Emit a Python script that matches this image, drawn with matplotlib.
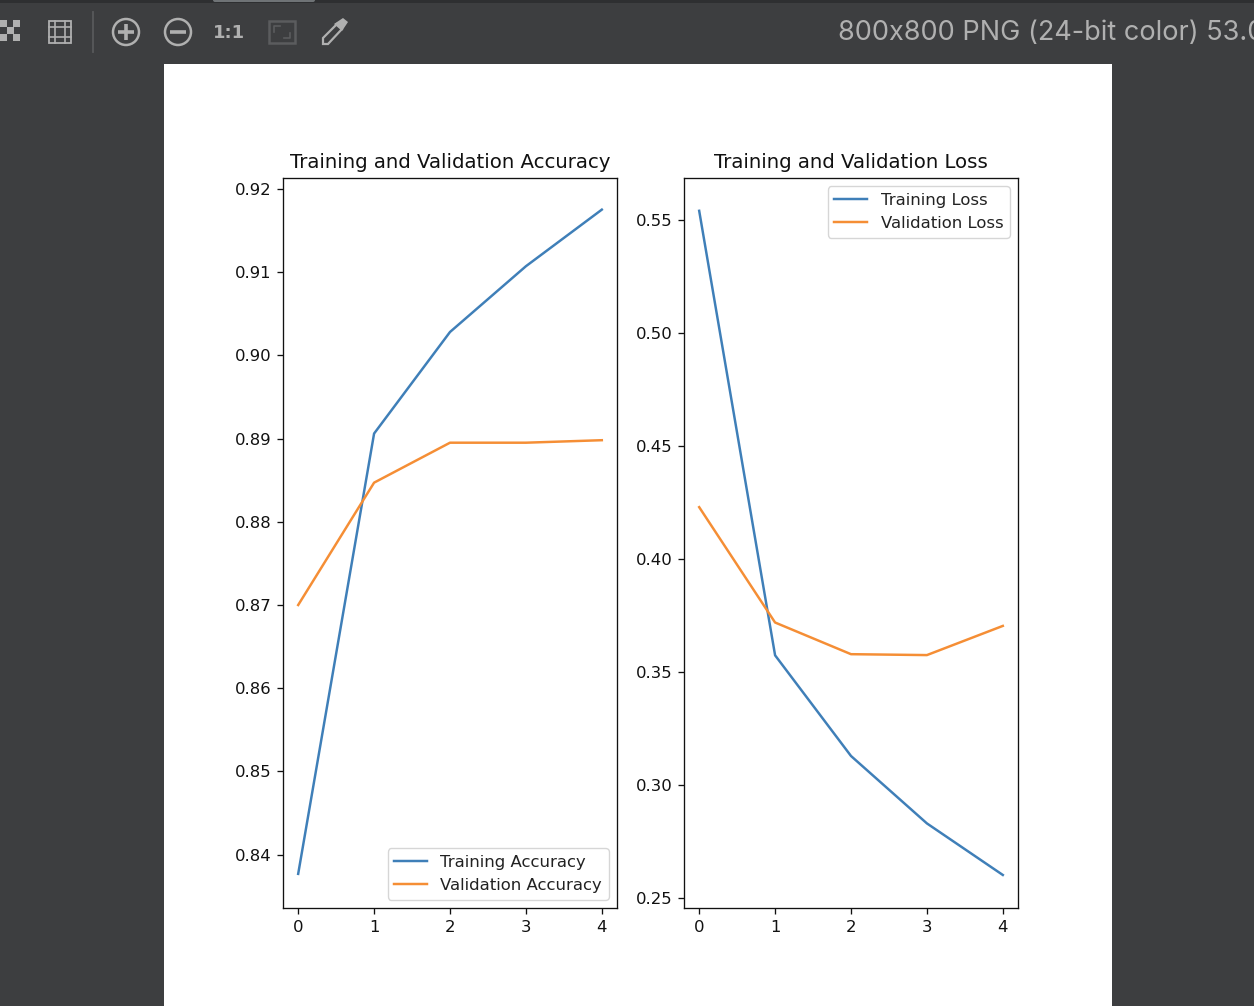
import matplotlib
matplotlib.use("Agg")
import matplotlib.pyplot as plt
from matplotlib.patches import Rectangle, Circle, Polygon, FancyBboxPatch

epochs = [0, 1, 2, 3, 4]
train_acc = [0.8377, 0.8906, 0.9028, 0.9107, 0.9175]
val_acc = [0.8700, 0.8847, 0.8895, 0.8895, 0.8898]
train_loss = [0.5540, 0.3575, 0.3130, 0.2832, 0.2604]
val_loss = [0.4230, 0.3720, 0.3580, 0.3576, 0.3705]
acc_ticks = [0.84, 0.85, 0.86, 0.87, 0.88, 0.89, 0.90, 0.91, 0.92]
loss_ticks = [0.25, 0.30, 0.35, 0.40, 0.45, 0.50, 0.55]
status_text = "800x800 PNG (24-bit color) 53.07"

W, H = 1254, 1006
S = 948 / 800
BLUE = "#3f7fb8"
ORANGE = "#f58e35"
DARK = "#3d3e40"
ICON = "#b0b0b0"
INK = "#111111"

plt.rcParams["font.family"] = ["DejaVu Sans"]
plt.rcParams["font.size"] = 10 * S
plt.rcParams["axes.linewidth"] = 0.8 * S

fig = plt.figure(figsize=(W / 100, H / 100), dpi=100, facecolor=DARK)

# viewer window around the picture, in pixel coordinates
bg = fig.add_axes([0, 0, 1, 1], zorder=0)
bg.set_xlim(0, W)
bg.set_ylim(H, 0)
bg.axis("off")
bg.add_patch(Rectangle((164, 64), 948, 942, fc="white", ec="none"))
bg.add_patch(Rectangle((0, 0), W, 3, fc="#2e2f31", ec="none"))
bg.add_patch(FancyBboxPatch((213, -4), 102, 6, boxstyle="round,pad=0,rounding_size=2",
                            fc="#6f7376", ec="none"))
# checkerboard icon
for (cx, cy) in [(0, 20), (13, 20), (7, 27), (0, 34), (13, 34)]:
    bg.add_patch(Rectangle((cx, cy), 7, 7, fc=ICON, ec="none"))
# grid icon
bg.add_patch(Rectangle((49, 21), 22, 22, fc="none", ec=ICON, lw=1.3))
for gx in (55, 65):
    bg.plot([gx, gx], [21, 43], color=ICON, lw=1.2)
for gy in (27, 37):
    bg.plot([49, 71], [gy, gy], color=ICON, lw=1.2)
bg.plot([93, 93], [12, 52], color="#58595b", lw=1.3)
# zoom icons
bg.add_patch(Circle((126, 32), 13, fc="none", ec=ICON, lw=1.8))
bg.plot([118, 134], [32, 32], color=ICON, lw=2.6, solid_capstyle="butt")
bg.plot([126, 126], [24, 40], color=ICON, lw=2.6, solid_capstyle="butt")
bg.add_patch(Circle((178, 32), 13, fc="none", ec=ICON, lw=1.8))
bg.plot([170, 186], [32, 32], color=ICON, lw=2.6, solid_capstyle="butt")
bg.text(229, 32.5, "1:1", color=ICON, fontsize=13, fontweight="bold",
        family="DejaVu Sans", ha="center", va="center")
# fit icon (dimmed)
bg.add_patch(Rectangle((269, 21), 26, 22, fc="none", ec="#5b5c5e", lw=1.8))
bg.plot([274, 274, 280], [32, 26, 26], color="#5b5c5e", lw=1.2)
bg.plot([284, 290, 290], [38, 38, 33], color="#5b5c5e", lw=1.2)
# eyedropper icon
bg.add_patch(Polygon([[323, 44], [323, 38], [337, 24], [342, 29], [328, 44]],
                     fc="none", ec=ICON, lw=1.6))
bg.add_patch(Polygon([[334, 24], [343, 18], [348, 22], [342, 31]], fc=ICON, ec="none"))
bg.text(838, 33, status_text, color=ICON, fontsize=19.5, family="Inter",
        ha="left", va="center", clip_on=True)


def panel(left_px, values_a, values_b, labels, title, yticks, ylim, fmt, loc):
    ax = fig.add_axes([left_px / W, 1 - 908 / H, 334 / W, 730 / H], zorder=2)
    ax.plot(epochs, values_a, color=BLUE, lw=1.5 * S, label=labels[0])
    ax.plot(epochs, values_b, color=ORANGE, lw=1.5 * S, label=labels[1])
    ax.set_xticks(epochs)
    ax.set_yticks(yticks)
    ax.set_yticklabels([fmt % t for t in yticks])
    ax.set_xlim(-0.2, 4.2)
    ax.set_ylim(*ylim)
    ax.tick_params(length=3.5 * S, width=0.8 * S, pad=3.5 * S, colors=INK)
    ax.set_title(title, fontsize=12 * S, color=INK, pad=6 * S)
    for s in ax.spines.values():
        s.set_color(INK)
    ax.legend(loc=loc, fontsize=10 * S, labelcolor="#222222")
    return ax


panel(283, train_acc, val_acc, ("Training Accuracy", "Validation Accuracy"),
      "Training and Validation Accuracy", acc_ticks, (0.8336, 0.9213), "%.2f", "lower right")
panel(684, train_loss, val_loss, ("Training Loss", "Validation Loss"),
      "Training and Validation Loss", loss_ticks, (0.2458, 0.5685), "%.2f", "upper right")

fig.savefig("out.png", dpi=100, facecolor=fig.get_facecolor())
